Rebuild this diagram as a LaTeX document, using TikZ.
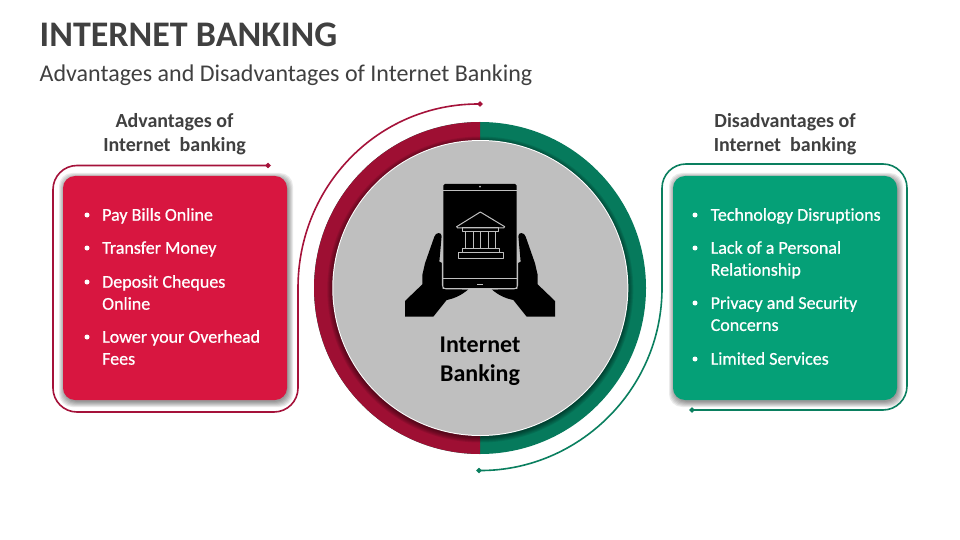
\documentclass[tikz,border=0pt]{standalone}
\usepackage{fontspec}
\setmainfont[Ligatures=NoCommon]{Carlito}
\newfontfamily\itemfont[Ligatures=NoCommon,FakeBold=0.7]{Carlito}
\usetikzlibrary{arrows.meta}
\definecolor{inktext}{HTML}{404040}
\definecolor{boxred}{HTML}{D81640}
\definecolor{boxgreen}{HTML}{05A077}
\definecolor{ringred}{HTML}{9E0F33}
\definecolor{ringgreen}{HTML}{067A5C}
\definecolor{linered}{HTML}{A5123A}
\definecolor{linegreen}{HTML}{0A7F5F}
\definecolor{discgrey}{HTML}{BFBFBF}
\tikzset{
  titletext/.style={anchor=base west,inner sep=0pt,text=inktext,font=\fontsize{36}{40}\selectfont\bfseries},
  subtext/.style={anchor=base west,inner sep=0pt,text=inktext,font=\fontsize{24}{28}\selectfont},
  headtext/.style={inner sep=0pt,align=center,text=inktext,font=\fontsize{20}{24.5}\selectfont\bfseries},
  centertext/.style={inner sep=0pt,align=center,text=black,font=\fontsize{24}{29.5}\selectfont\bfseries},
  itemtext/.style={anchor=west,inner sep=0pt,align=left,text=white,font=\itemfont\fontsize{18}{22}\selectfont},
  bulletdot/.style={circle,fill=white,inner sep=0pt,minimum size=5pt},
  panel/.style={rounded corners=12pt},
  guide/.style={line width=1.6pt,{Diamond[length=6pt,width=5.5pt]}-{Diamond[length=6pt,width=5.5pt]}},
  iconline/.style={draw=discgrey,line width=1pt,line join=round},
}
\newcommand{\softshadow}[4]{% x1 y1 x2 y2
  \foreach \k in {0,...,5}{
    \fill[black,fill opacity=0.08,rounded corners=13pt]
      (#1-5+\k+1,#2-5+\k+2) rectangle (#3+5-\k+1,#4+5-\k+2);
  }
}
\begin{document}
\begin{tikzpicture}[x=1pt,y=-1pt]
\useasboundingbox (0,0) rectangle (960,540);
\fill[white] (0,0) rectangle (960,540);

% titles
\node[titletext] (title) at (39.5,46.5) {INTERNET BANKING};
\node[subtext] (subtitle) at (39.5,81.7) {Advantages and Disadvantages of Internet Banking};
\node[headtext] (leftHead) at (174.5,134.7) {\strut Advantages of\\Internet\ \ banking\strut};
\node[headtext] (rightHead) at (785,134.7) {\strut Disadvantages of\\Internet\ \ banking\strut};

% guide lines
\draw[guide,linered] (271,165.5) -- (77,165.5) arc[start angle=90,end angle=180,x radius=24,y radius=-24]
  -- (53,388) arc[start angle=180,end angle=270,x radius=24,y radius=-24]
  -- (274,412) arc[start angle=270,end angle=360,x radius=24,y radius=-24]
  -- (298,288) .. controls (298,186) and (378,104) .. (483,104);
\draw[guide,linegreen] (476,470.5) .. controls (578,470.5) and (662,390) .. (662,288)
  -- (662,188) arc[start angle=180,end angle=90,x radius=24,y radius=-24]
  -- (883,164) arc[start angle=90,end angle=0,x radius=24,y radius=-24]
  -- (907,386) arc[start angle=0,end angle=-90,x radius=24,y radius=-24]
  -- (689,410);

% panels
\softshadow{63}{176}{287}{400}
\softshadow{673}{176}{897}{400}
\fill[boxred,panel] (63,176) rectangle (287,400);
\fill[boxgreen,panel] (673,176) rectangle (897,400);

% ring
\fill[ringgreen] (480,288) circle[radius=166];
\fill[ringred] (480,122) arc[start angle=90,end angle=270,x radius=166,y radius=-166] -- cycle;
\foreach \k in {0,...,5}{
  \fill[black,fill opacity=0.09] (480.3,289.5) circle[radius=153-\k];
}
\fill[white] (480.3,288) circle[radius=148];
\fill[discgrey] (480.3,288) circle[radius=147];

% icon
\begin{scope}[shift={(390,170)},x=0.33333pt,y=-0.33333pt]
  \fill[black] (45,440) -- (45,393) -- (97,343) -- (97,315) -- (105,280) -- (133,200)
     .. controls (137,186) and (155,186) .. (155,198) -- (148,275) -- (158,280) -- (158,357) -- (235,358)
     .. controls (215,375) and (195,385) .. (170,390) -- (130,440) -- cycle;
  \fill[black] (495,440) -- (495,393) -- (443,343) -- (443,315) -- (435,280) -- (407,200)
     .. controls (403,186) and (385,186) .. (385,198) -- (392,275) -- (382,280) -- (382,357) -- (305,358)
     .. controls (325,375) and (345,385) .. (370,390) -- (410,440) -- cycle;
  \draw[iconline,line width=1pt,rounded corners=4pt] (157,60) -- (157,357) -- (383,357) -- (383,60);
  \fill[black,rounded corners=1.5pt] (160,42) rectangle (380,354);
  \draw[iconline] (160,61.5) -- (380,61.5);
  \draw[iconline] (160,327) -- (380,327);
  \fill[discgrey] (270,50) circle[radius=3];
  \fill[discgrey] (262,341) rectangle (280,345);
  \draw[iconline] (271,126) -- (200,170) -- (203,174) -- (341,174) -- (344,170) -- cycle;
  \draw[iconline] (218,174) rectangle (325,186);
  \foreach \cx in {227,249,271,294,316}{
    \draw[iconline] (\cx,186) -- (\cx,236);
  }
  \draw[iconline] (217,236) rectangle (327,248);
  \draw[iconline] (205,248) rectangle (340,266);
\end{scope}

\node[centertext] (centerLabel) at (480,361) {\strut Internet\\Banking\strut};

% left items
\node[bulletdot] (lb1) at (87,215) {};
\node[bulletdot] (lb2) at (87,248) {};
\node[bulletdot] (lb3) at (87,282) {};
\node[bulletdot] (lb4) at (87,337) {};
\node[itemtext] (li1) at (102,216.3) {\strut Pay Bills Online\strut};
\node[itemtext] (li2) at (102,249.3) {\strut Transfer Money\strut};
\node[itemtext] (li3) at (102,294.3) {\strut Deposit Cheques\\Online\strut};
\node[itemtext] (li4) at (102,349.3) {\strut Lower your Overhead\\Fees\strut};

% right items
\node[bulletdot] (rb1) at (695,215) {};
\node[bulletdot] (rb2) at (695,248) {};
\node[bulletdot] (rb3) at (695,303) {};
\node[bulletdot] (rb4) at (695,359) {};
\node[itemtext] (ri1) at (710.5,216.3) {\strut Technology Disruptions\strut};
\node[itemtext] (ri2) at (710.5,260.3) {\strut Lack of a Personal\\Relationship\strut};
\node[itemtext] (ri3) at (710.5,315.5) {\strut Privacy and Security\\Concerns\strut};
\node[itemtext] (ri4) at (710.5,360.3) {\strut Limited Services\strut};
\end{tikzpicture}
\end{document}
